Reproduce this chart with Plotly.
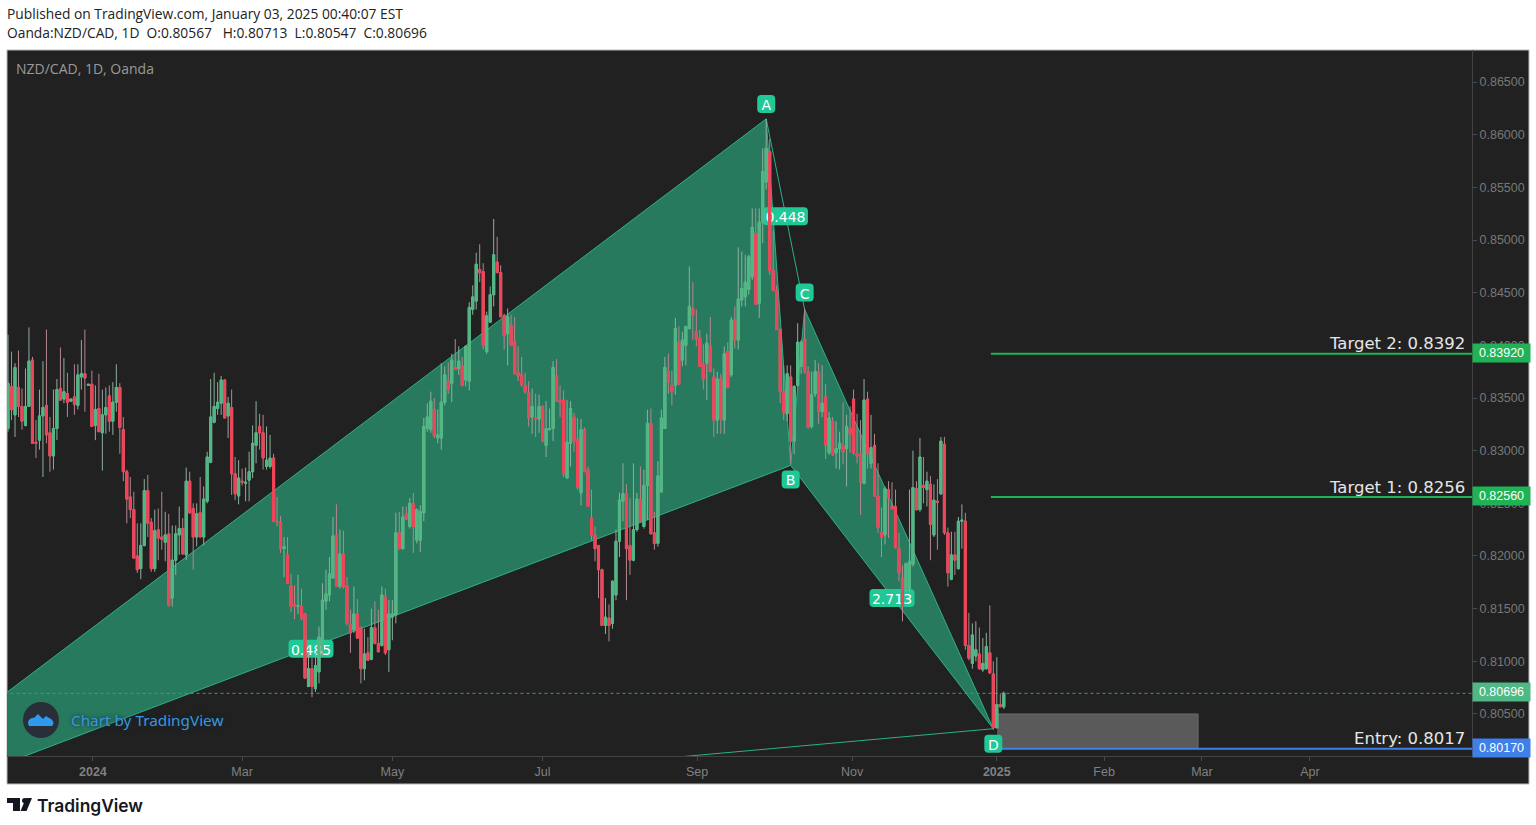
import plotly.graph_objects as go

# NZD/CAD daily bars, one per trading day
opens = [
    0.8321, 0.8361, 0.8334, 0.8360, 0.8342, 0.8324, 0.8342, 0.8386, 0.8308, 0.8310,
    0.8333, 0.8343, 0.8317, 0.8295, 0.8321, 0.8359, 0.8349, 0.8354, 0.8347, 0.8351,
    0.8343, 0.8370, 0.8373, 0.8362, 0.8363, 0.8324, 0.8340, 0.8317, 0.8334, 0.8352,
    0.8328, 0.8346, 0.8360, 0.8320, 0.8280, 0.8256, 0.8244, 0.8200, 0.8188, 0.8210,
    0.8262, 0.8232, 0.8188, 0.8225, 0.8218, 0.8213, 0.8221, 0.8160, 0.8196, 0.8220,
    0.8226, 0.8201, 0.8271, 0.8245, 0.8218, 0.8241, 0.8218, 0.8252, 0.8289, 0.8327,
    0.8340, 0.8345, 0.8367, 0.8333, 0.8341, 0.8278, 0.8257, 0.8271, 0.8269, 0.8272,
    0.8280, 0.8305, 0.8323, 0.8317, 0.8285, 0.8285, 0.8293, 0.8233, 0.8232, 0.8207,
    0.8201, 0.8172, 0.8154, 0.8152, 0.8152, 0.8145, 0.8076, 0.8093, 0.8074, 0.8090,
    0.8111, 0.8157, 0.8163, 0.8179, 0.8220, 0.8171, 0.8202, 0.8172, 0.8135, 0.8130,
    0.8145, 0.8132, 0.8093, 0.8108, 0.8102, 0.8132, 0.8117, 0.8115, 0.8161, 0.8111,
    0.8142, 0.8144, 0.8222, 0.8207, 0.8240, 0.8228, 0.8250, 0.8215, 0.8215, 0.8241,
    0.8321, 0.8320, 0.8339, 0.8312, 0.8312, 0.8346, 0.8366, 0.8364, 0.8379, 0.8378,
    0.8380, 0.8367, 0.8366, 0.8434, 0.8442, 0.8472, 0.8470, 0.8394, 0.8422, 0.8448,
    0.8479, 0.8469, 0.8428, 0.8411, 0.8419, 0.8403, 0.8374, 0.8372, 0.8362, 0.8355,
    0.8332, 0.8331, 0.8330, 0.8342, 0.8305, 0.8320, 0.8321, 0.8371, 0.8348, 0.8348,
    0.8274, 0.8307, 0.8332, 0.8311, 0.8260, 0.8320, 0.8282, 0.8236, 0.8220, 0.8210,
    0.8187, 0.8134, 0.8141, 0.8136, 0.8163, 0.8214, 0.8252, 0.8259, 0.8210, 0.8196,
    0.8225, 0.8254, 0.8228, 0.8267, 0.8326, 0.8222, 0.8212, 0.8261, 0.8321, 0.8375,
    0.8362, 0.8362, 0.8403, 0.8386, 0.8400, 0.8416, 0.8435, 0.8413, 0.8407, 0.8382,
    0.8383, 0.8399, 0.8370, 0.8329, 0.8368, 0.8329, 0.8394, 0.8372, 0.8424, 0.8405,
    0.8443, 0.8446, 0.8453, 0.8465, 0.8506, 0.8440, 0.8517, 0.8555, 0.8584, 0.8471,
    0.8452, 0.8415, 0.8356, 0.8335, 0.8370, 0.8309, 0.8362, 0.8380, 0.8406, 0.8375,
    0.8323, 0.8354, 0.8375, 0.8337, 0.8351, 0.8298, 0.8328, 0.8298, 0.8302, 0.8305,
    0.8302, 0.8321, 0.8349, 0.8297, 0.8296, 0.8269, 0.8349, 0.8288, 0.8305, 0.8257,
    0.8222, 0.8220, 0.8263, 0.8247, 0.8247, 0.8207, 0.8179, 0.8169, 0.8169, 0.8192,
    0.8264, 0.8244, 0.8267, 0.8263, 0.8268, 0.8220, 0.8252, 0.8259, 0.8306, 0.8222,
    0.8178, 0.8201, 0.8188, 0.8233, 0.8233, 0.8115, 0.8098, 0.8105, 0.8107, 0.8092,
    0.8093, 0.8108, 0.8088, 0.8037, 0.8059, 0.80567,
]
highs = [
    0.8410, 0.8394, 0.8383, 0.8395, 0.8359, 0.8378, 0.8417, 0.8389, 0.8329, 0.8358,
    0.8385, 0.8415, 0.8332, 0.8358, 0.8368, 0.8398, 0.8388, 0.8374, 0.8349, 0.8382,
    0.8382, 0.8405, 0.8415, 0.8363, 0.8376, 0.8362, 0.8373, 0.8358, 0.8360, 0.8362,
    0.8365, 0.8382, 0.8364, 0.8332, 0.8282, 0.8275, 0.8261, 0.8231, 0.8231, 0.8273,
    0.8277, 0.8236, 0.8244, 0.8245, 0.8261, 0.8242, 0.8240, 0.8229, 0.8229, 0.8247,
    0.8236, 0.8284, 0.8280, 0.8250, 0.8250, 0.8275, 0.8266, 0.8299, 0.8368, 0.8374,
    0.8365, 0.8371, 0.8368, 0.8351, 0.8358, 0.8294, 0.8291, 0.8283, 0.8284, 0.8299,
    0.8324, 0.8347, 0.8335, 0.8334, 0.8323, 0.8315, 0.8297, 0.8256, 0.8238, 0.8218,
    0.8218, 0.8183, 0.8172, 0.8182, 0.8169, 0.8146, 0.8108, 0.8103, 0.8108, 0.8133,
    0.8174, 0.8187, 0.8199, 0.8237, 0.8249, 0.8225, 0.8224, 0.8180, 0.8149, 0.8171,
    0.8159, 0.8133, 0.8131, 0.8123, 0.8150, 0.8157, 0.8149, 0.8171, 0.8169, 0.8158,
    0.8158, 0.8241, 0.8242, 0.8247, 0.8247, 0.8255, 0.8260, 0.8245, 0.8248, 0.8331,
    0.8345, 0.8356, 0.8350, 0.8339, 0.8383, 0.8380, 0.8384, 0.8392, 0.8406, 0.8399,
    0.8389, 0.8400, 0.8441, 0.8457, 0.8488, 0.8496, 0.8478, 0.8432, 0.8456, 0.8520,
    0.8503, 0.8476, 0.8430, 0.8435, 0.8429, 0.8427, 0.8399, 0.8389, 0.8374, 0.8366,
    0.8359, 0.8354, 0.8353, 0.8343, 0.8347, 0.8340, 0.8385, 0.8387, 0.8362, 0.8357,
    0.8348, 0.8347, 0.8336, 0.8331, 0.8330, 0.8322, 0.8285, 0.8263, 0.8228, 0.8210,
    0.8188, 0.8160, 0.8154, 0.8177, 0.8225, 0.8260, 0.8288, 0.8268, 0.8255, 0.8288,
    0.8260, 0.8285, 0.8282, 0.8339, 0.8340, 0.8242, 0.8290, 0.8339, 0.8389, 0.8392,
    0.8376, 0.8426, 0.8418, 0.8413, 0.8418, 0.8475, 0.8460, 0.8434, 0.8415, 0.8401,
    0.8411, 0.8427, 0.8378, 0.8375, 0.8373, 0.8399, 0.8403, 0.8427, 0.8437, 0.8493,
    0.8489, 0.8486, 0.8486, 0.8530, 0.8530, 0.8530, 0.8587, 0.8615, 0.8596, 0.8509,
    0.8457, 0.8416, 0.8381, 0.8381, 0.8381, 0.8362, 0.8421, 0.8405, 0.8435, 0.8380,
    0.8375, 0.8386, 0.8383, 0.8381, 0.8363, 0.8337, 0.8332, 0.8328, 0.8318, 0.8346,
    0.8334, 0.8342, 0.8358, 0.8335, 0.8329, 0.8368, 0.8356, 0.8334, 0.8316, 0.8288,
    0.8246, 0.8266, 0.8271, 0.8270, 0.8263, 0.8222, 0.8191, 0.8193, 0.8263, 0.8300,
    0.8271, 0.8312, 0.8294, 0.8280, 0.8276, 0.8268, 0.8273, 0.8313, 0.8313, 0.8227,
    0.8223, 0.8223, 0.8237, 0.8249, 0.8241, 0.8146, 0.8136, 0.8138, 0.8132, 0.8122,
    0.8127, 0.8153, 0.8100, 0.8104, 0.8069, 0.80713,
]
lows = [
    0.8318, 0.8329, 0.8313, 0.8332, 0.8320, 0.8323, 0.8342, 0.8307, 0.8293, 0.8301,
    0.8275, 0.8307, 0.8280, 0.8282, 0.8310, 0.8348, 0.8345, 0.8332, 0.8347, 0.8334,
    0.8339, 0.8358, 0.8337, 0.8362, 0.8323, 0.8310, 0.8318, 0.8281, 0.8316, 0.8318,
    0.8315, 0.8337, 0.8297, 0.8271, 0.8231, 0.8236, 0.8198, 0.8184, 0.8178, 0.8209,
    0.8218, 0.8185, 0.8185, 0.8196, 0.8206, 0.8195, 0.8152, 0.8152, 0.8182, 0.8201,
    0.8201, 0.8196, 0.8240, 0.8187, 0.8209, 0.8218, 0.8210, 0.8250, 0.8288, 0.8326,
    0.8334, 0.8334, 0.8331, 0.8312, 0.8258, 0.8253, 0.8249, 0.8267, 0.8252, 0.8252,
    0.8274, 0.8288, 0.8301, 0.8282, 0.8282, 0.8283, 0.8233, 0.8228, 0.8203, 0.8180,
    0.8174, 0.8147, 0.8140, 0.8145, 0.8139, 0.8084, 0.8076, 0.8066, 0.8071, 0.8079,
    0.8106, 0.8149, 0.8157, 0.8179, 0.8171, 0.8169, 0.8169, 0.8134, 0.8108, 0.8127,
    0.8122, 0.8079, 0.8082, 0.8101, 0.8101, 0.8116, 0.8109, 0.8114, 0.8106, 0.8090,
    0.8120, 0.8136, 0.8206, 0.8206, 0.8234, 0.8226, 0.8203, 0.8212, 0.8204, 0.8233,
    0.8318, 0.8317, 0.8312, 0.8307, 0.8301, 0.8343, 0.8354, 0.8346, 0.8377, 0.8372,
    0.8361, 0.8361, 0.8357, 0.8429, 0.8434, 0.8460, 0.8396, 0.8392, 0.8422, 0.8437,
    0.8469, 0.8427, 0.8396, 0.8381, 0.8400, 0.8373, 0.8366, 0.8361, 0.8354, 0.8323,
    0.8316, 0.8313, 0.8317, 0.8308, 0.8294, 0.8319, 0.8309, 0.8347, 0.8332, 0.8275,
    0.8274, 0.8285, 0.8299, 0.8263, 0.8248, 0.8280, 0.8247, 0.8215, 0.8195, 0.8160,
    0.8134, 0.8126, 0.8119, 0.8131, 0.8158, 0.8199, 0.8233, 0.8158, 0.8182, 0.8195,
    0.8223, 0.8232, 0.8226, 0.8234, 0.8221, 0.8206, 0.8209, 0.8260, 0.8321, 0.8354,
    0.8343, 0.8353, 0.8363, 0.8380, 0.8381, 0.8415, 0.8405, 0.8399, 0.8380, 0.8358,
    0.8348, 0.8375, 0.8313, 0.8316, 0.8316, 0.8316, 0.8359, 0.8370, 0.8397, 0.8396,
    0.8437, 0.8437, 0.8448, 0.8462, 0.8439, 0.8426, 0.8497, 0.8548, 0.8467, 0.8451,
    0.8415, 0.8345, 0.8329, 0.8328, 0.8288, 0.8297, 0.8361, 0.8373, 0.8373, 0.8321,
    0.8321, 0.8351, 0.8325, 0.8332, 0.8292, 0.8296, 0.8295, 0.8283, 0.8282, 0.8287,
    0.8266, 0.8298, 0.8296, 0.8288, 0.8239, 0.8268, 0.8283, 0.8283, 0.8256, 0.8222,
    0.8199, 0.8211, 0.8217, 0.8244, 0.8207, 0.8176, 0.8138, 0.8166, 0.8166, 0.8190,
    0.8243, 0.8242, 0.8250, 0.8247, 0.8196, 0.8218, 0.8206, 0.8258, 0.8220, 0.8171,
    0.8177, 0.8182, 0.8187, 0.8207, 0.8111, 0.8101, 0.8093, 0.8100, 0.8092, 0.8090,
    0.8092, 0.8088, 0.8035, 0.8036, 0.8056, 0.80547,
]
closes = [
    0.8364, 0.8339, 0.8379, 0.8342, 0.8328, 0.8342, 0.8385, 0.8307, 0.8307, 0.8333,
    0.8341, 0.8315, 0.8295, 0.8321, 0.8358, 0.8348, 0.8356, 0.8346, 0.8349, 0.8344,
    0.8372, 0.8373, 0.8369, 0.8363, 0.8323, 0.8339, 0.8318, 0.8334, 0.8341, 0.8328,
    0.8346, 0.8360, 0.8322, 0.8280, 0.8254, 0.8244, 0.8198, 0.8187, 0.8210, 0.8262,
    0.8231, 0.8188, 0.8224, 0.8217, 0.8216, 0.8220, 0.8153, 0.8196, 0.8221, 0.8226,
    0.8202, 0.8271, 0.8241, 0.8218, 0.8240, 0.8218, 0.8254, 0.8294, 0.8332, 0.8342,
    0.8346, 0.8367, 0.8331, 0.8345, 0.8278, 0.8259, 0.8274, 0.8270, 0.8270, 0.8280,
    0.8307, 0.8317, 0.8317, 0.8293, 0.8291, 0.8293, 0.8233, 0.8232, 0.8207, 0.8209,
    0.8174, 0.8152, 0.8152, 0.8153, 0.8141, 0.8084, 0.8093, 0.8076, 0.8096, 0.8123,
    0.8158, 0.8164, 0.8183, 0.8219, 0.8171, 0.8202, 0.8171, 0.8136, 0.8127, 0.8145,
    0.8122, 0.8093, 0.8107, 0.8101, 0.8132, 0.8117, 0.8109, 0.8163, 0.8108, 0.8145,
    0.8145, 0.8222, 0.8207, 0.8237, 0.8235, 0.8250, 0.8228, 0.8244, 0.8242, 0.8323,
    0.8332, 0.8347, 0.8314, 0.8315, 0.8346, 0.8372, 0.8358, 0.8386, 0.8377, 0.8385,
    0.8362, 0.8399, 0.8436, 0.8446, 0.8477, 0.8469, 0.8400, 0.8428, 0.8448, 0.8486,
    0.8469, 0.8427, 0.8409, 0.8427, 0.8400, 0.8373, 0.8371, 0.8363, 0.8356, 0.8331,
    0.8342, 0.8330, 0.8342, 0.8309, 0.8321, 0.8321, 0.8379, 0.8347, 0.8346, 0.8278,
    0.8308, 0.8340, 0.8309, 0.8265, 0.8320, 0.8280, 0.8247, 0.8220, 0.8207, 0.8187,
    0.8134, 0.8142, 0.8134, 0.8176, 0.8214, 0.8253, 0.8259, 0.8207, 0.8196, 0.8225,
    0.8254, 0.8233, 0.8267, 0.8326, 0.8221, 0.8212, 0.8276, 0.8331, 0.8379, 0.8365,
    0.8356, 0.8416, 0.8363, 0.8405, 0.8418, 0.8437, 0.8429, 0.8406, 0.8380, 0.8368,
    0.8402, 0.8375, 0.8329, 0.8368, 0.8330, 0.8392, 0.8360, 0.8424, 0.8405, 0.8444,
    0.8454, 0.8460, 0.8484, 0.8512, 0.8439, 0.8517, 0.8565, 0.8587, 0.8471, 0.8452,
    0.8415, 0.8356, 0.8336, 0.8373, 0.8309, 0.8361, 0.8403, 0.8403, 0.8375, 0.8322,
    0.8353, 0.8375, 0.8337, 0.8345, 0.8305, 0.8331, 0.8296, 0.8302, 0.8307, 0.8299,
    0.8323, 0.8316, 0.8298, 0.8295, 0.8270, 0.8348, 0.8297, 0.8303, 0.8257, 0.8227,
    0.8218, 0.8264, 0.8255, 0.8245, 0.8208, 0.8184, 0.8152, 0.8193, 0.8195, 0.8265,
    0.8244, 0.8294, 0.8265, 0.8271, 0.8230, 0.8253, 0.8251, 0.8309, 0.8222, 0.8184,
    0.8201, 0.8196, 0.8233, 0.8234, 0.8115, 0.8103, 0.8125, 0.8111, 0.8093, 0.8098,
    0.8114, 0.8089, 0.8037, 0.8059, 0.8057, 0.80696,
]
bars = list(range(len(opens)))

# harmonic pattern X-A-B-C-D, the X point sits left of the visible range
pattern_names = ["X", "A", "B", "C", "D"]
pattern_bars = [-54, 217, 224, 228, 282]
pattern_prices = [0.7936, 0.8615, 0.8286, 0.8434, 0.8036]
ratio_labels = ["0.485", "0.448", "2.713"]

# trade levels
level_labels = ["Target 2: 0.8392", "Target 1: 0.8256", "Entry: 0.8017"]
level_prices = [0.8392, 0.8256, 0.8017]
level_tags = ["0.83920", "0.82560", "0.80170"]
level_colors = ["#1FB355", "#1FB355", "#3F7FE8"]
last_price = 0.80696
box_bars = [283.3, 340.6]
box_prices = [0.8050, 0.8017]

# axes
price_ticks = [0.805, 0.81, 0.815, 0.82, 0.825, 0.83, 0.835, 0.84, 0.845, 0.85, 0.855, 0.86, 0.865]
tick_bars = [24.3, 67, 110, 153, 197.2, 241.6, 283, 313.7, 341.7, 372.6]
tick_labels = ["2024", "Mar", "May", "Jul", "Sep", "Nov", "2025", "Feb", "Mar", "Apr"]

BG = "#212121"
UP, DOWN = "#4FB884", "#F04459"
UP_WICK, DOWN_WICK = "#8FAF9E", "#B3868D"
BADGE = "#20C896"
FILL = "#287A5E"
EDGE = "#2DB088"
HEADER_FONT = "Open Sans"
AXIS_FONT = "Liberation Sans"


def x_paper(px):
    return (px - 7) / 1465


def y_paper(px):
    return (756 - px) / 706


def polygon(idx):
    pts = [f"{pattern_bars[i]} {pattern_prices[i]}" for i in idx]
    return "M " + " L ".join(pts) + " Z"


def badge_path(w, h, dx=0, dy=0, r=4):
    x0, x1, y0, y1 = dx - w / 2, dx + w / 2, dy - h / 2, dy + h / 2
    return (
        f"M {x0 + r} {y0} L {x1 - r} {y0} Q {x1} {y0} {x1} {y0 + r} L {x1} {y1 - r} Q {x1} {y1} {x1 - r} {y1} "
        f"L {x0 + r} {y1} Q {x0} {y1} {x0} {y1 - r} L {x0} {y0 + r} Q {x0} {y0} {x0 + r} {y0} Z"
    )


def add_text(fig, px, py, text, font, xanchor="left"):
    # text placed by page pixel, used for everything that is not tied to the data
    fig.add_annotation(xref="paper", yref="paper", x=x_paper(px - 2), y=y_paper(py), xanchor=xanchor,
                       yanchor="middle", text=text, showarrow=False, font=font)


def add_badge(fig, bar, price, text, size, dx=0, dy=0):
    fig.add_shape(type="path", layer="below", xsizemode="pixel", ysizemode="pixel",
                  xanchor=bar, yanchor=price, path=badge_path(size[0], size[1], dx, dy),
                  fillcolor=BADGE, line=dict(width=0),
                  label=dict(text=text, textposition="middle center",
                             font=dict(family="DejaVu Sans", size=14, color="white")))


fig = go.Figure()

# wicks and bodies are separate so the wick can stay paler than the body
fig.add_trace(go.Candlestick(
    x=bars, open=opens, high=highs, low=lows, close=closes,
    increasing=dict(line=dict(color=UP_WICK, width=1), fillcolor=UP_WICK),
    decreasing=dict(line=dict(color=DOWN_WICK, width=1), fillcolor=DOWN_WICK),
    whiskerwidth=0, hoverinfo="skip", showlegend=False,
))
fig.add_trace(go.Candlestick(
    x=bars, open=opens, close=closes,
    high=[max(o, c) for o, c in zip(opens, closes)],
    low=[min(o, c) for o, c in zip(opens, closes)],
    increasing=dict(line=dict(color=UP, width=1), fillcolor=UP),
    decreasing=dict(line=dict(color=DOWN, width=1), fillcolor=DOWN),
    whiskerwidth=0, hoverinfo="skip", showlegend=False,
))

# dark chart frame around plot and both axes
fig.add_shape(type="rect", xref="paper", yref="paper", layer="below",
              x0=x_paper(7), x1=x_paper(1529), y0=y_paper(784), y1=y_paper(50),
              fillcolor=BG, line=dict(color="#B8B8B8", width=1))

# pattern triangles and the two thin legs
for idx in ([0, 1, 2], [2, 3, 4]):
    fig.add_shape(type="path", path=polygon(idx), layer="below",
                  fillcolor=FILL, line=dict(color=EDGE, width=1))
for i, j in ([1, 3], [0, 4]):
    fig.add_shape(type="line", layer="below",
                  x0=pattern_bars[i], x1=pattern_bars[j], y0=pattern_prices[i], y1=pattern_prices[j],
                  line=dict(color=EDGE, width=1))

# last price line, entry box, target lines
fig.add_shape(type="line", layer="below", x0=-1, x1=420, y0=last_price, y1=last_price,
              line=dict(color="#2BA873", width=1, dash="dot"))
fig.add_shape(type="rect", layer="below", x0=box_bars[0], x1=box_bars[1], y0=box_prices[0], y1=box_prices[1],
              fillcolor="#5A5A5A", line=dict(color="#6A6A6A", width=1))
for price, color in zip(level_prices, level_colors):
    fig.add_shape(type="line", layer="below", x0=281.3, x1=420, y0=price, y1=price,
                  line=dict(color=color, width=2))

# letter badges just off the pattern points
letter_offsets = {"A": 15, "B": -14, "C": 17, "D": -15}
for name, bar, price in zip(pattern_names, pattern_bars, pattern_prices):
    if name in letter_offsets:
        add_badge(fig, bar, price, name, (18, 18), dy=letter_offsets[name])

# ratio badges sit at the middle of their legs
ratio_nudges = [(6, 1), (0, -2), (0, -1)]
for text, (i, j), nudge in zip(ratio_labels, ([0, 2], [1, 3], [2, 4]), ratio_nudges):
    add_badge(fig, (pattern_bars[i] + pattern_bars[j]) / 2, (pattern_prices[i] + pattern_prices[j]) / 2,
              text, (45, 18), dx=nudge[0], dy=nudge[1])

# level captions and price tags
for text, price in zip(level_labels, level_prices):
    fig.add_annotation(xref="paper", x=x_paper(1467), y=price, yshift=10, xanchor="right", text=text,
                       showarrow=False, font=dict(family="DejaVu Sans", size=16.5, color="#E6E6E6"))
for text, price, color in zip(level_tags, level_prices, level_colors):
    fig.add_annotation(xref="paper", x=1, xanchor="left", y=price, yshift=1, text=text, showarrow=False,
                       width=57, height=18, borderpad=0, bgcolor=color,
                       font=dict(family=AXIS_FONT, size=12.5, color="white"))
fig.add_annotation(xref="paper", x=1, xanchor="left", y=last_price, yshift=1, text=f"{last_price:.5f}",
                   showarrow=False, width=57, height=18, borderpad=0, bgcolor=UP,
                   font=dict(family=AXIS_FONT, size=12.5, color="white"))

# header and footer text
dark_header = dict(family=HEADER_FONT, size=13.8, color="#222222")
add_text(fig, 7, 14, "Published on TradingView.com, January 03, 2025 00:40:07 EST", dark_header)
add_text(fig, 7, 33, "Oanda:NZD/CAD, 1D\u00a0\u00a0O:0.80567\u00a0\u00a0\u00a0H:0.80713\u00a0\u00a0L:0.80547\u00a0\u00a0C:0.80696",
         dark_header)
add_text(fig, 16, 68, "NZD/CAD, 1D, Oanda", dict(family=HEADER_FONT, size=14, color="#9A9A9A"))
add_text(fig, 71, 720, "Chart by TradingView",
         dict(family="Noto Sans", size=15.3, color="#3A97DE", shadow="0 0 4px #14233A"))
add_text(fig, 37, 805, "TradingView", dict(family="Inter", size=17.4, weight=600, color="#131722"))

# chart-by watermark icon
fig.add_shape(type="circle", xref="paper", yref="paper", xsizemode="pixel", ysizemode="pixel",
              xanchor=x_paper(41), yanchor=y_paper(720), x0=-18, x1=18, y0=-18, y1=18,
              fillcolor="#2A2E39", line=dict(width=0))
fig.add_shape(type="path", xref="paper", yref="paper", xsizemode="pixel", ysizemode="pixel",
              xanchor=x_paper(41), yanchor=y_paper(720),
              path="M -12 -6 C -15 -1 -10 3 -7 2 L -3 6 L 2 1 L 5 4 L 8 2 C 12 1 14 -4 11 -6 Z",
              fillcolor="#2E9BF0", line=dict(width=0))

# footer logo, pixel paths measured from the left edge of the page
logo_parts = [
    "M 7 7 L 20 7 L 20 -6 L 13 -6 L 13 2 L 7 2 Z",
    "M 22 4.5 C 22 8 27 8 27 4.5 C 27 1 22 1 22 4.5 Z",
    "M 26 7 L 32 7 L 26.5 -6 L 20.5 -6 Z",
]
for part in logo_parts:
    fig.add_shape(type="path", xref="paper", yref="paper", xsizemode="pixel", ysizemode="pixel",
                  xanchor=x_paper(0), yanchor=y_paper(805), path=part,
                  fillcolor="#131722", line=dict(width=0))

fig.update_layout(
    width=1536, height=825,
    margin=dict(l=7, r=64, t=50, b=69),
    paper_bgcolor="white", plot_bgcolor=BG,
    showlegend=False, boxmode="overlay", boxgap=0.3, boxgroupgap=0.15,
    xaxis=dict(
        range=[-0.29, 419], rangeslider=dict(visible=False), showgrid=False, zeroline=False,
        tickmode="array", tickvals=tick_bars,
        ticktext=[f"<b>{t}</b>" if t.isdigit() else t for t in tick_labels],
        tickfont=dict(family=AXIS_FONT, size=12.5, color="#808080"),
        ticks="outside", ticklen=4, tickcolor="#4A4A4A", showline=True, linecolor="#434343", linewidth=1,
    ),
    yaxis=dict(
        range=[0.80101, 0.86804], side="right", showgrid=False, zeroline=False,
        tickmode="array", tickvals=price_ticks, tickformat=".5f",
        tickfont=dict(family=AXIS_FONT, size=12.5, color="#787878"),
        ticks="outside", ticklen=4, tickcolor="#4A4A4A", showline=True, linecolor="#434343", linewidth=1,
    ),
)

fig.write_html("out.html", config={"displayModeBar": False},
               post_script="document.body.style.margin='0';")
